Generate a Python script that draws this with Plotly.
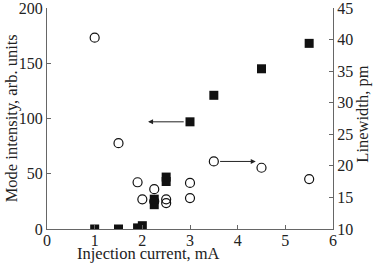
import plotly.graph_objects as go

# Mode intensity (left axis, filled squares)
sq_x = [1.0, 1.5, 1.9, 2.0, 2.25, 2.25, 2.5, 2.5, 3.0, 3.5, 4.5, 5.5]
sq_y = [0, 0, 1, 3, 22, 27, 43, 47, 97, 121, 145, 168]

# Linewidth (right axis, open circles)
ci_x = [1.0, 1.5, 1.9, 2.0, 2.25, 2.25, 2.5, 2.5, 3.0, 3.0, 3.5, 4.5, 5.5]
ci_y = [40.3, 23.6, 17.4, 14.7, 16.3, 14.4, 14.7, 14.1, 17.3, 14.9, 20.7, 19.7, 17.9]

x_title = "Injection current, mA"
y_title = "Mode intensity, arb. units"
y2_title = "Linewidth, pm"

fam = "Liberation Serif, Times New Roman, serif"
tickfont = dict(family=fam, size=16, color="#222")
titlefont = dict(family=fam, size=16.5, color="#222")
axcol = "#666"

fig = go.Figure()
fig.add_trace(go.Scatter(x=sq_x, y=sq_y, mode="markers",
                         marker=dict(symbol="square", size=9, color="#111"),
                         yaxis="y"))
fig.add_trace(go.Scatter(x=ci_x, y=ci_y, mode="markers",
                         marker=dict(symbol="circle-open", size=9, color="#111",
                                     line=dict(width=1.2)),
                         yaxis="y2"))

fig.add_annotation(x=2.12, y=97, ax=2.9, ay=97, xref="x", yref="y",
                   axref="x", ayref="y", showarrow=True, arrowhead=2,
                   arrowsize=1, arrowwidth=1, arrowcolor="#222", text="")
fig.add_annotation(x=4.38, y=20.7, ax=3.6, ay=20.7, xref="x", yref="y2",
                   axref="x", ayref="y2", showarrow=True, arrowhead=2,
                   arrowsize=1, arrowwidth=1, arrowcolor="#222", text="")

# axis titles placed as paper annotations
fig.add_annotation(text=x_title, xref="paper", yref="paper", x=0.355, y=-0.163,
                   xanchor="center", yanchor="bottom", showarrow=False, font=titlefont)
fig.add_annotation(text=y_title, xref="paper", yref="paper", x=-0.123, y=0.5,
                   xanchor="center", yanchor="middle", showarrow=False,
                   textangle=-90, font=titlefont)
fig.add_annotation(text=y2_title, xref="paper", yref="paper", x=1.1, y=0.52,
                   xanchor="center", yanchor="middle", showarrow=False,
                   textangle=-90, font=titlefont)

common = dict(showgrid=False, zeroline=False, showline=True, linecolor=axcol,
              linewidth=1, ticks="inside", ticklen=4, tickcolor=axcol,
              tickfont=tickfont, automargin=False, ticklabeloverflow="allow")

fig.update_layout(
    width=373, height=265,
    margin=dict(l=47, r=40, t=8, b=36),
    paper_bgcolor="white", plot_bgcolor="white",
    showlegend=False,
    xaxis=dict(range=[0, 6], dtick=1, **common),
    yaxis=dict(range=[0, 200], dtick=50, **common),
    yaxis2=dict(range=[10, 45], dtick=5, overlaying="y", side="right", **common),
)

try:
    fig.update_xaxes(ticklabelstandoff=-3)
except Exception:
    pass

fig.write_html("out.html", config={"displayModeBar": False},
               post_script="document.body.style.margin='0';document.body.style.overflow='hidden';")
